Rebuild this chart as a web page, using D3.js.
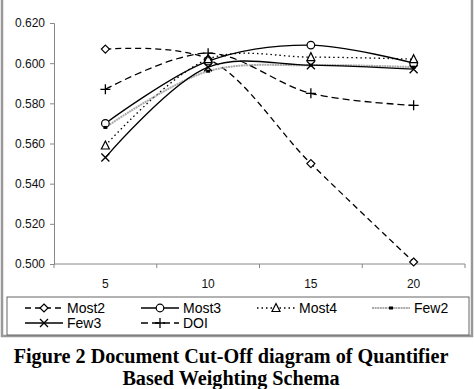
<!DOCTYPE html>
<html>
<head>
<meta charset="utf-8">
<script src="https://cdn.jsdelivr.net/npm/d3@7"></script>
<style>
  body { margin: 0; background: #fff; }
  svg { display: block; }
</style>
</head>
<body>
<div id="chart"></div>
<script>
// data
const categories = ["5", "10", "15", "20"];
const yTicks = [0.500, 0.520, 0.540, 0.560, 0.580, 0.600, 0.620];

const most2 = [0.607, 0.602, 0.550, 0.501];
const most3 = [0.570, 0.601, 0.609, 0.600];
const most4 = [0.559, 0.602, 0.603, 0.602];
const few2  = [0.568, 0.596, 0.599, 0.598];
const few3  = [0.553, 0.598, 0.599, 0.597];
const doi   = [0.587, 0.605, 0.585, 0.579];

const seriesNames = ["Most2", "Most3", "Most4", "Few2", "Few3", "DOI"];
const seriesValues = [most2, most3, most4, few2, few3, doi];

// line + marker styles
const styles = {
    Most2: {stroke: "#000", width: 1.3, dash: "6,4", marker: "diamond"},
    Most3: {stroke: "#000", width: 1.3, dash: null, marker: "circle"},
    Most4: {stroke: "#000", width: 1.3, dash: "1.5,3", marker: "triangle"},
    Few2:  {stroke: "#aaa", width: 2, dash: "2,0.6", marker: "square"},
    Few3:  {stroke: "#000", width: 1.3, dash: null, marker: "cross"},
    DOI:   {stroke: "#000", width: 1.3, dash: "7,4", marker: "plus"}
};

const W = 474, H = 389;
const svg = d3.select("#chart").append("svg")
    .attr("width", W).attr("height", H);

const x = d3.scaleBand().domain(categories).range([54, 465]);
const y = d3.scaleLinear().domain([0.5, 0.62]).range([264, 23]);
const cx = (c) => x(c) + x.bandwidth() / 2;

// outer frame
svg.append("rect")
    .attr("x", 2).attr("y", -5)
    .attr("width", 470).attr("height", 341)
    .attr("fill", "none").attr("stroke", "#999").attr("stroke-width", 2.5);

// y axis
const yAxis = d3.axisLeft(y).tickValues(yTicks).tickFormat(d3.format(".3f")).tickSize(4);
svg.append("g")
    .attr("transform", "translate(54,0)")
    .call(yAxis)
    .call(g => g.select(".domain").attr("stroke", "#888"))
    .call(g => g.selectAll(".tick line").attr("stroke", "#888"))
    .call(g => g.selectAll("text")
        .attr("x", -9)
        .attr("font-family", "Liberation Sans, Arial, sans-serif")
        .attr("font-size", 12).attr("fill", "#111"));

// x axis: ticks sit between the categories
const xg = svg.append("g");
xg.append("line")
    .attr("x1", 54).attr("x2", 465)
    .attr("y1", y(0.5)).attr("y2", y(0.5))
    .attr("stroke", "#888");
const bounds = categories.map(c => x(c)).concat([x(categories[categories.length - 1]) + x.bandwidth()]);
xg.selectAll(".xt").data(bounds).join("line")
    .attr("x1", d => d).attr("x2", d => d)
    .attr("y1", y(0.5)).attr("y2", y(0.5) + 4)
    .attr("stroke", "#888");
xg.selectAll(".xl").data(categories).join("text")
    .attr("x", d => cx(d)).attr("y", 288)
    .attr("text-anchor", "middle")
    .attr("font-family", "Liberation Sans, Arial, sans-serif")
    .attr("font-size", 12).attr("fill", "#111")
    .text(d => d);

function drawMarker(g, type, px, py) {
    if (type == "diamond") {
        g.append("path")
            .attr("d", `M${px},${py-4}L${px+4},${py}L${px},${py+4}L${px-4},${py}Z`)
            .attr("fill", "#fff").attr("stroke", "#000").attr("stroke-width", 1.2);
    } else if (type == "circle") {
        g.append("circle").attr("cx", px).attr("cy", py).attr("r", 3.8)
            .attr("fill", "#fff").attr("stroke", "#000").attr("stroke-width", 1.2);
    } else if (type == "triangle") {
        g.append("path")
            .attr("d", `M${px},${py-4.5}L${px+4},${py+3.5}L${px-4},${py+3.5}Z`)
            .attr("fill", "#fff").attr("stroke", "#000").attr("stroke-width", 1.2);
    } else if (type == "square") {
        g.append("rect").attr("x", px - 2).attr("y", py - 1.5)
            .attr("width", 4).attr("height", 3).attr("fill", "#000");
    } else if (type == "cross") {
        g.append("path")
            .attr("d", `M${px-4},${py-4}L${px+4},${py+4}M${px-4},${py+4}L${px+4},${py-4}`)
            .attr("stroke", "#000").attr("stroke-width", 1.3);
    } else if (type == "plus") {
        g.append("path")
            .attr("d", `M${px-5},${py}L${px+5},${py}M${px},${py-5}L${px},${py+5}`)
            .attr("stroke", "#000").attr("stroke-width", 1.3);
    }
}

const line = d3.line()
    .x((d, i) => cx(categories[i]))
    .y(d => y(d))
    .curve(d3.curveCatmullRom.alpha(0.5));

const plot = svg.append("g");
seriesNames.forEach((name, k) => {
    const s = styles[name];
    plot.append("path")
        .datum(seriesValues[k])
        .attr("d", line)
        .attr("fill", "none")
        .attr("stroke", s.stroke)
        .attr("stroke-width", s.width)
        .attr("stroke-dasharray", s.dash);
});
seriesNames.forEach((name, k) => {
    const g = plot.append("g");
    seriesValues[k].forEach((v, i) => drawMarker(g, styles[name].marker, cx(categories[i]), y(v)));
});

// legend
const legend = svg.append("g");
legend.append("rect")
    .attr("x", 7).attr("y", 297).attr("width", 462).attr("height", 38)
    .attr("fill", "#fff").attr("stroke", "#666").attr("stroke-width", 1);

const colX = [25, 141, 257, 372];
const rowY = [308, 323];
seriesNames.forEach((name, k) => {
    const s = styles[name];
    const lx = colX[k % 4], ly = rowY[Math.floor(k / 4)];
    legend.append("line")
        .attr("x1", lx).attr("x2", lx + 38)
        .attr("y1", ly).attr("y2", ly)
        .attr("stroke", s.stroke).attr("stroke-width", s.width)
        .attr("stroke-dasharray", s.dash);
    drawMarker(legend, s.marker, lx + 19, ly);
    legend.append("text")
        .attr("x", lx + 42).attr("y", ly + 5)
        .attr("font-family", "Liberation Sans, Arial, sans-serif")
        .attr("font-size", 14).attr("fill", "#000")
        .text(name);
});

// caption
const caption = ["Figure 2 Document Cut-Off diagram of Quantifier", "Based Weighting Schema"];
svg.selectAll(".cap").data(caption).join("text")
    .attr("x", 231).attr("y", (d, i) => 363 + i * 22)
    .attr("text-anchor", "middle")
    .attr("font-family", "Liberation Serif, Times New Roman, serif")
    .attr("font-weight", "bold").attr("font-size", 20.2).attr("fill", "#000")
    .text(d => d);
</script>
</body>
</html>
